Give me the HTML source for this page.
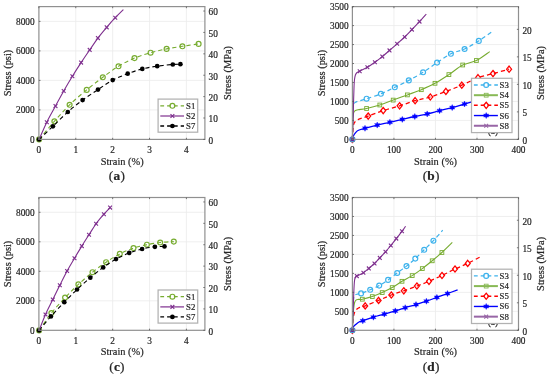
<!DOCTYPE html><html><head><meta charset="utf-8"><style>html,body{margin:0;padding:0;background:#fff;}svg{display:block;}text{font-family:"Liberation Serif",serif;stroke-width:0.2px;}</style></head><body>
<svg width="550" height="379" viewBox="0 0 550 379">
<rect width="550" height="379" fill="#fff"/>
<line x1="75.78" y1="6.6" x2="75.78" y2="139.4" stroke="#ebebeb" stroke-width="0.8"/>
<line x1="112.66" y1="6.6" x2="112.66" y2="139.4" stroke="#ebebeb" stroke-width="0.8"/>
<line x1="149.54" y1="6.6" x2="149.54" y2="139.4" stroke="#ebebeb" stroke-width="0.8"/>
<line x1="186.42" y1="6.6" x2="186.42" y2="139.4" stroke="#ebebeb" stroke-width="0.8"/>
<line x1="38.9" y1="109.9" x2="204.9" y2="109.9" stroke="#ebebeb" stroke-width="0.8"/>
<line x1="38.9" y1="80.4" x2="204.9" y2="80.4" stroke="#ebebeb" stroke-width="0.8"/>
<line x1="38.9" y1="50.9" x2="204.9" y2="50.9" stroke="#ebebeb" stroke-width="0.8"/>
<line x1="38.9" y1="21.4" x2="204.9" y2="21.4" stroke="#ebebeb" stroke-width="0.8"/>
<path d="M39.1 139.4 C41.65 136.38 49.32 127.07 54.4 121.3 C59.48 115.53 64.22 110.03 69.6 104.8 C74.98 99.57 81.17 94.48 86.7 89.9 C92.23 85.32 97.5 81.23 102.8 77.3 C108.1 73.37 113.22 69.5 118.5 66.3 C123.78 63.1 129.15 60.37 134.5 58.1 C139.85 55.83 145.25 54.23 150.6 52.7 C155.95 51.17 161.3 49.97 166.6 48.9 C171.9 47.83 177.07 47.13 182.4 46.3 C187.73 45.47 195.9 44.3 198.6 43.9" fill="none" stroke="#77AC30" stroke-width="1.1" stroke-dasharray="4.2 3.0" stroke-linejoin="round"/>
<circle cx="39.1" cy="139.4" r="2.45" fill="none" stroke="#77AC30" stroke-width="1.2"/>
<circle cx="54.4" cy="121.3" r="2.45" fill="none" stroke="#77AC30" stroke-width="1.2"/>
<circle cx="69.6" cy="104.8" r="2.45" fill="none" stroke="#77AC30" stroke-width="1.2"/>
<circle cx="86.7" cy="89.9" r="2.45" fill="none" stroke="#77AC30" stroke-width="1.2"/>
<circle cx="102.8" cy="77.3" r="2.45" fill="none" stroke="#77AC30" stroke-width="1.2"/>
<circle cx="118.5" cy="66.3" r="2.45" fill="none" stroke="#77AC30" stroke-width="1.2"/>
<circle cx="134.5" cy="58.1" r="2.45" fill="none" stroke="#77AC30" stroke-width="1.2"/>
<circle cx="150.6" cy="52.7" r="2.45" fill="none" stroke="#77AC30" stroke-width="1.2"/>
<circle cx="166.6" cy="48.9" r="2.45" fill="none" stroke="#77AC30" stroke-width="1.2"/>
<circle cx="182.4" cy="46.3" r="2.45" fill="none" stroke="#77AC30" stroke-width="1.2"/>
<circle cx="198.6" cy="43.9" r="2.45" fill="none" stroke="#77AC30" stroke-width="1.2"/>
<path d="M39.1 139.4 C41.4 137.22 48.12 130.87 52.9 126.3 C57.68 121.73 62.85 116.37 67.8 112 C72.75 107.63 77.57 103.83 82.6 100.1 C87.63 96.37 92.98 92.93 98 89.6 C103.02 86.27 107.75 82.75 112.7 80.1 C117.65 77.45 122.77 75.57 127.7 73.7 C132.63 71.83 137.38 70.15 142.3 68.9 C147.22 67.65 152.12 66.93 157.2 66.2 C162.28 65.47 168.93 64.83 172.8 64.5 C176.67 64.17 179.13 64.25 180.4 64.2" fill="none" stroke="#000000" stroke-width="1.1" stroke-dasharray="4.2 3.0" stroke-linejoin="round"/>
<circle cx="39.1" cy="139.4" r="2.35" fill="#000000"/>
<circle cx="52.9" cy="126.3" r="2.35" fill="#000000"/>
<circle cx="67.8" cy="112" r="2.35" fill="#000000"/>
<circle cx="82.6" cy="100.1" r="2.35" fill="#000000"/>
<circle cx="98" cy="89.6" r="2.35" fill="#000000"/>
<circle cx="112.7" cy="80.1" r="2.35" fill="#000000"/>
<circle cx="127.7" cy="73.7" r="2.35" fill="#000000"/>
<circle cx="142.3" cy="68.9" r="2.35" fill="#000000"/>
<circle cx="157.2" cy="66.2" r="2.35" fill="#000000"/>
<circle cx="172.8" cy="64.5" r="2.35" fill="#000000"/>
<circle cx="180.4" cy="64.2" r="2.35" fill="#000000"/>
<path d="M39.1 139.4 C40.38 136.53 44.07 127.75 46.8 122.2 C49.53 116.65 52.68 111.3 55.5 106.1 C58.32 100.9 60.88 95.98 63.7 91 C66.52 86.02 69.5 80.93 72.4 76.2 C75.3 71.47 78.22 66.98 81.1 62.6 C83.98 58.22 86.9 53.98 89.7 49.9 C92.5 45.82 95.07 41.86 97.9 38.1 C100.73 34.34 103.81 30.74 106.7 27.35 C109.59 23.96 112.47 20.7 115.25 17.74 C118.03 14.78 122.04 10.96 123.4 9.6" fill="none" stroke="#7E2F8E" stroke-width="1.1" stroke-linejoin="round"/>
<path d="M44.9 120.3 L48.7 124.1 M44.9 124.1 L48.7 120.3" stroke="#7E2F8E" stroke-width="1.1" fill="none"/>
<path d="M53.6 104.2 L57.4 108 M53.6 108 L57.4 104.2" stroke="#7E2F8E" stroke-width="1.1" fill="none"/>
<path d="M61.8 89.1 L65.6 92.9 M61.8 92.9 L65.6 89.1" stroke="#7E2F8E" stroke-width="1.1" fill="none"/>
<path d="M70.5 74.3 L74.3 78.1 M70.5 78.1 L74.3 74.3" stroke="#7E2F8E" stroke-width="1.1" fill="none"/>
<path d="M79.2 60.7 L83 64.5 M79.2 64.5 L83 60.7" stroke="#7E2F8E" stroke-width="1.1" fill="none"/>
<path d="M87.8 48 L91.6 51.8 M87.8 51.8 L91.6 48" stroke="#7E2F8E" stroke-width="1.1" fill="none"/>
<path d="M96 36.2 L99.8 40 M96 40 L99.8 36.2" stroke="#7E2F8E" stroke-width="1.1" fill="none"/>
<path d="M104.8 25.45 L108.6 29.25 M104.8 29.25 L108.6 25.45" stroke="#7E2F8E" stroke-width="1.1" fill="none"/>
<path d="M113.35 15.84 L117.15 19.64 M113.35 19.64 L117.15 15.84" stroke="#7E2F8E" stroke-width="1.1" fill="none"/>
<rect x="38.9" y="6.6" width="166" height="132.8" fill="none" stroke="#909090" stroke-width="1.2"/>
<line x1="38.9" y1="139.4" x2="38.9" y2="137.8" stroke="#555555" stroke-width="0.8"/>
<line x1="38.9" y1="6.6" x2="38.9" y2="8.2" stroke="#555555" stroke-width="0.8"/>
<line x1="75.78" y1="139.4" x2="75.78" y2="137.8" stroke="#555555" stroke-width="0.8"/>
<line x1="75.78" y1="6.6" x2="75.78" y2="8.2" stroke="#555555" stroke-width="0.8"/>
<line x1="112.66" y1="139.4" x2="112.66" y2="137.8" stroke="#555555" stroke-width="0.8"/>
<line x1="112.66" y1="6.6" x2="112.66" y2="8.2" stroke="#555555" stroke-width="0.8"/>
<line x1="149.54" y1="139.4" x2="149.54" y2="137.8" stroke="#555555" stroke-width="0.8"/>
<line x1="149.54" y1="6.6" x2="149.54" y2="8.2" stroke="#555555" stroke-width="0.8"/>
<line x1="186.42" y1="139.4" x2="186.42" y2="137.8" stroke="#555555" stroke-width="0.8"/>
<line x1="186.42" y1="6.6" x2="186.42" y2="8.2" stroke="#555555" stroke-width="0.8"/>
<line x1="38.9" y1="139.4" x2="40.5" y2="139.4" stroke="#555555" stroke-width="0.8"/>
<line x1="38.9" y1="109.9" x2="40.5" y2="109.9" stroke="#555555" stroke-width="0.8"/>
<line x1="38.9" y1="80.4" x2="40.5" y2="80.4" stroke="#555555" stroke-width="0.8"/>
<line x1="38.9" y1="50.9" x2="40.5" y2="50.9" stroke="#555555" stroke-width="0.8"/>
<line x1="38.9" y1="21.4" x2="40.5" y2="21.4" stroke="#555555" stroke-width="0.8"/>
<line x1="204.9" y1="139.4" x2="203.3" y2="139.4" stroke="#555555" stroke-width="0.8"/>
<line x1="204.9" y1="118.01" x2="203.3" y2="118.01" stroke="#555555" stroke-width="0.8"/>
<line x1="204.9" y1="96.61" x2="203.3" y2="96.61" stroke="#555555" stroke-width="0.8"/>
<line x1="204.9" y1="75.22" x2="203.3" y2="75.22" stroke="#555555" stroke-width="0.8"/>
<line x1="204.9" y1="53.83" x2="203.3" y2="53.83" stroke="#555555" stroke-width="0.8"/>
<line x1="204.9" y1="32.43" x2="203.3" y2="32.43" stroke="#555555" stroke-width="0.8"/>
<line x1="204.9" y1="11.04" x2="203.3" y2="11.04" stroke="#555555" stroke-width="0.8"/>
<text x="38.9" y="152.7" font-size="9.3" text-anchor="middle" fill="#262626" stroke="#262626">0</text>
<text x="75.78" y="152.7" font-size="9.3" text-anchor="middle" fill="#262626" stroke="#262626">1</text>
<text x="112.66" y="152.7" font-size="9.3" text-anchor="middle" fill="#262626" stroke="#262626">2</text>
<text x="149.54" y="152.7" font-size="9.3" text-anchor="middle" fill="#262626" stroke="#262626">3</text>
<text x="186.42" y="152.7" font-size="9.3" text-anchor="middle" fill="#262626" stroke="#262626">4</text>
<text x="34.6" y="142.7" font-size="9.3" text-anchor="end" fill="#262626" stroke="#262626">0</text>
<text x="34.6" y="113.2" font-size="9.3" text-anchor="end" fill="#262626" stroke="#262626">2000</text>
<text x="34.6" y="83.7" font-size="9.3" text-anchor="end" fill="#262626" stroke="#262626">4000</text>
<text x="34.6" y="54.2" font-size="9.3" text-anchor="end" fill="#262626" stroke="#262626">6000</text>
<text x="34.6" y="24.7" font-size="9.3" text-anchor="end" fill="#262626" stroke="#262626">8000</text>
<text x="208.6" y="143.7" font-size="9.3" text-anchor="start" fill="#262626" stroke="#262626">0</text>
<text x="208.6" y="122.31" font-size="9.3" text-anchor="start" fill="#262626" stroke="#262626">10</text>
<text x="208.6" y="100.91" font-size="9.3" text-anchor="start" fill="#262626" stroke="#262626">20</text>
<text x="208.6" y="79.52" font-size="9.3" text-anchor="start" fill="#262626" stroke="#262626">30</text>
<text x="208.6" y="58.13" font-size="9.3" text-anchor="start" fill="#262626" stroke="#262626">40</text>
<text x="208.6" y="36.73" font-size="9.3" text-anchor="start" fill="#262626" stroke="#262626">50</text>
<text x="208.6" y="15.34" font-size="9.3" text-anchor="start" fill="#262626" stroke="#262626">60</text>
<text x="0" y="0" transform="translate(11.4 73) rotate(-90)" font-size="10.4" text-anchor="middle" fill="#262626" stroke="#262626">Stress (psi)</text>
<text x="0" y="0" transform="translate(230.8 73) rotate(-90)" font-size="10.4" text-anchor="middle" fill="#262626" stroke="#262626">Stress (MPa)</text>
<text x="122.2" y="164.5" font-size="10.4" text-anchor="middle" fill="#262626" stroke="#262626">Strain (%)</text>
<line x1="75.78" y1="197.5" x2="75.78" y2="330.3" stroke="#ebebeb" stroke-width="0.8"/>
<line x1="112.66" y1="197.5" x2="112.66" y2="330.3" stroke="#ebebeb" stroke-width="0.8"/>
<line x1="149.54" y1="197.5" x2="149.54" y2="330.3" stroke="#ebebeb" stroke-width="0.8"/>
<line x1="186.42" y1="197.5" x2="186.42" y2="330.3" stroke="#ebebeb" stroke-width="0.8"/>
<line x1="38.9" y1="300.8" x2="204.9" y2="300.8" stroke="#ebebeb" stroke-width="0.8"/>
<line x1="38.9" y1="271.3" x2="204.9" y2="271.3" stroke="#ebebeb" stroke-width="0.8"/>
<line x1="38.9" y1="241.8" x2="204.9" y2="241.8" stroke="#ebebeb" stroke-width="0.8"/>
<line x1="38.9" y1="212.3" x2="204.9" y2="212.3" stroke="#ebebeb" stroke-width="0.8"/>
<path d="M39.1 330.4 C41.15 327.52 47.07 318.57 51.4 313.1 C55.73 307.63 60.6 302.38 65.1 297.6 C69.6 292.82 73.83 288.63 78.4 284.4 C82.97 280.17 87.88 275.9 92.5 272.2 C97.12 268.5 101.55 265.25 106.1 262.2 C110.65 259.15 115.23 256.25 119.8 253.9 C124.37 251.55 128.98 249.63 133.5 248.1 C138.02 246.57 142.45 245.63 146.9 244.7 C151.35 243.77 155.72 243.02 160.2 242.5 C164.68 241.98 171.53 241.75 173.8 241.6" fill="none" stroke="#77AC30" stroke-width="1.1" stroke-dasharray="4.2 3.0" stroke-linejoin="round"/>
<circle cx="39.1" cy="330.4" r="2.45" fill="none" stroke="#77AC30" stroke-width="1.2"/>
<circle cx="51.4" cy="313.1" r="2.45" fill="none" stroke="#77AC30" stroke-width="1.2"/>
<circle cx="65.1" cy="297.6" r="2.45" fill="none" stroke="#77AC30" stroke-width="1.2"/>
<circle cx="78.4" cy="284.4" r="2.45" fill="none" stroke="#77AC30" stroke-width="1.2"/>
<circle cx="92.5" cy="272.2" r="2.45" fill="none" stroke="#77AC30" stroke-width="1.2"/>
<circle cx="106.1" cy="262.2" r="2.45" fill="none" stroke="#77AC30" stroke-width="1.2"/>
<circle cx="119.8" cy="253.9" r="2.45" fill="none" stroke="#77AC30" stroke-width="1.2"/>
<circle cx="133.5" cy="248.1" r="2.45" fill="none" stroke="#77AC30" stroke-width="1.2"/>
<circle cx="146.9" cy="244.7" r="2.45" fill="none" stroke="#77AC30" stroke-width="1.2"/>
<circle cx="160.2" cy="242.5" r="2.45" fill="none" stroke="#77AC30" stroke-width="1.2"/>
<circle cx="173.8" cy="241.6" r="2.45" fill="none" stroke="#77AC30" stroke-width="1.2"/>
<path d="M39.1 330.4 C41.07 328.07 46.7 321.1 50.9 316.4 C55.1 311.7 59.95 306.68 64.3 302.2 C68.65 297.72 72.67 293.58 77 289.5 C81.33 285.42 85.93 281.38 90.3 277.7 C94.67 274.02 98.92 270.5 103.2 267.4 C107.48 264.3 111.67 261.52 116 259.1 C120.33 256.68 124.85 254.58 129.2 252.9 C133.55 251.22 137.82 250.02 142.1 249 C146.38 247.98 151.17 247.23 154.9 246.8 C158.63 246.37 162.9 246.47 164.5 246.4" fill="none" stroke="#000000" stroke-width="1.1" stroke-dasharray="4.2 3.0" stroke-linejoin="round"/>
<circle cx="39.1" cy="330.4" r="2.35" fill="#000000"/>
<circle cx="50.9" cy="316.4" r="2.35" fill="#000000"/>
<circle cx="64.3" cy="302.2" r="2.35" fill="#000000"/>
<circle cx="77" cy="289.5" r="2.35" fill="#000000"/>
<circle cx="90.3" cy="277.7" r="2.35" fill="#000000"/>
<circle cx="103.2" cy="267.4" r="2.35" fill="#000000"/>
<circle cx="116" cy="259.1" r="2.35" fill="#000000"/>
<circle cx="129.2" cy="252.9" r="2.35" fill="#000000"/>
<circle cx="142.1" cy="249" r="2.35" fill="#000000"/>
<circle cx="154.9" cy="246.8" r="2.35" fill="#000000"/>
<circle cx="164.5" cy="246.4" r="2.35" fill="#000000"/>
<path d="M39.1 330.4 C40.17 327.75 43.22 319.63 45.5 314.5 C47.78 309.37 50.42 304.47 52.8 299.6 C55.18 294.73 57.42 290.07 59.8 285.3 C62.18 280.53 64.65 275.52 67.1 271 C69.55 266.48 72.05 262.35 74.5 258.2 C76.95 254.05 79.38 250.02 81.8 246.1 C84.22 242.18 86.62 238.43 89 234.7 C91.38 230.97 93.62 227.12 96.1 223.7 C98.58 220.28 101.57 216.88 103.9 214.2 C106.23 211.52 109.07 208.7 110.1 207.6" fill="none" stroke="#7E2F8E" stroke-width="1.1" stroke-linejoin="round"/>
<path d="M43.6 312.6 L47.4 316.4 M43.6 316.4 L47.4 312.6" stroke="#7E2F8E" stroke-width="1.1" fill="none"/>
<path d="M50.9 297.7 L54.7 301.5 M50.9 301.5 L54.7 297.7" stroke="#7E2F8E" stroke-width="1.1" fill="none"/>
<path d="M57.9 283.4 L61.7 287.2 M57.9 287.2 L61.7 283.4" stroke="#7E2F8E" stroke-width="1.1" fill="none"/>
<path d="M65.2 269.1 L69 272.9 M65.2 272.9 L69 269.1" stroke="#7E2F8E" stroke-width="1.1" fill="none"/>
<path d="M72.6 256.3 L76.4 260.1 M72.6 260.1 L76.4 256.3" stroke="#7E2F8E" stroke-width="1.1" fill="none"/>
<path d="M79.9 244.2 L83.7 248 M79.9 248 L83.7 244.2" stroke="#7E2F8E" stroke-width="1.1" fill="none"/>
<path d="M87.1 232.8 L90.9 236.6 M87.1 236.6 L90.9 232.8" stroke="#7E2F8E" stroke-width="1.1" fill="none"/>
<path d="M94.2 221.8 L98 225.6 M94.2 225.6 L98 221.8" stroke="#7E2F8E" stroke-width="1.1" fill="none"/>
<path d="M102 212.3 L105.8 216.1 M102 216.1 L105.8 212.3" stroke="#7E2F8E" stroke-width="1.1" fill="none"/>
<path d="M108.2 205.7 L112 209.5 M108.2 209.5 L112 205.7" stroke="#7E2F8E" stroke-width="1.1" fill="none"/>
<rect x="38.9" y="197.5" width="166" height="132.8" fill="none" stroke="#909090" stroke-width="1.2"/>
<line x1="38.9" y1="330.3" x2="38.9" y2="328.7" stroke="#555555" stroke-width="0.8"/>
<line x1="38.9" y1="197.5" x2="38.9" y2="199.1" stroke="#555555" stroke-width="0.8"/>
<line x1="75.78" y1="330.3" x2="75.78" y2="328.7" stroke="#555555" stroke-width="0.8"/>
<line x1="75.78" y1="197.5" x2="75.78" y2="199.1" stroke="#555555" stroke-width="0.8"/>
<line x1="112.66" y1="330.3" x2="112.66" y2="328.7" stroke="#555555" stroke-width="0.8"/>
<line x1="112.66" y1="197.5" x2="112.66" y2="199.1" stroke="#555555" stroke-width="0.8"/>
<line x1="149.54" y1="330.3" x2="149.54" y2="328.7" stroke="#555555" stroke-width="0.8"/>
<line x1="149.54" y1="197.5" x2="149.54" y2="199.1" stroke="#555555" stroke-width="0.8"/>
<line x1="186.42" y1="330.3" x2="186.42" y2="328.7" stroke="#555555" stroke-width="0.8"/>
<line x1="186.42" y1="197.5" x2="186.42" y2="199.1" stroke="#555555" stroke-width="0.8"/>
<line x1="38.9" y1="330.3" x2="40.5" y2="330.3" stroke="#555555" stroke-width="0.8"/>
<line x1="38.9" y1="300.8" x2="40.5" y2="300.8" stroke="#555555" stroke-width="0.8"/>
<line x1="38.9" y1="271.3" x2="40.5" y2="271.3" stroke="#555555" stroke-width="0.8"/>
<line x1="38.9" y1="241.8" x2="40.5" y2="241.8" stroke="#555555" stroke-width="0.8"/>
<line x1="38.9" y1="212.3" x2="40.5" y2="212.3" stroke="#555555" stroke-width="0.8"/>
<line x1="204.9" y1="330.3" x2="203.3" y2="330.3" stroke="#555555" stroke-width="0.8"/>
<line x1="204.9" y1="308.91" x2="203.3" y2="308.91" stroke="#555555" stroke-width="0.8"/>
<line x1="204.9" y1="287.51" x2="203.3" y2="287.51" stroke="#555555" stroke-width="0.8"/>
<line x1="204.9" y1="266.12" x2="203.3" y2="266.12" stroke="#555555" stroke-width="0.8"/>
<line x1="204.9" y1="244.73" x2="203.3" y2="244.73" stroke="#555555" stroke-width="0.8"/>
<line x1="204.9" y1="223.33" x2="203.3" y2="223.33" stroke="#555555" stroke-width="0.8"/>
<line x1="204.9" y1="201.94" x2="203.3" y2="201.94" stroke="#555555" stroke-width="0.8"/>
<text x="38.9" y="343.6" font-size="9.3" text-anchor="middle" fill="#262626" stroke="#262626">0</text>
<text x="75.78" y="343.6" font-size="9.3" text-anchor="middle" fill="#262626" stroke="#262626">1</text>
<text x="112.66" y="343.6" font-size="9.3" text-anchor="middle" fill="#262626" stroke="#262626">2</text>
<text x="149.54" y="343.6" font-size="9.3" text-anchor="middle" fill="#262626" stroke="#262626">3</text>
<text x="186.42" y="343.6" font-size="9.3" text-anchor="middle" fill="#262626" stroke="#262626">4</text>
<text x="34.6" y="333.6" font-size="9.3" text-anchor="end" fill="#262626" stroke="#262626">0</text>
<text x="34.6" y="304.1" font-size="9.3" text-anchor="end" fill="#262626" stroke="#262626">2000</text>
<text x="34.6" y="274.6" font-size="9.3" text-anchor="end" fill="#262626" stroke="#262626">4000</text>
<text x="34.6" y="245.1" font-size="9.3" text-anchor="end" fill="#262626" stroke="#262626">6000</text>
<text x="34.6" y="215.6" font-size="9.3" text-anchor="end" fill="#262626" stroke="#262626">8000</text>
<text x="208.6" y="334.6" font-size="9.3" text-anchor="start" fill="#262626" stroke="#262626">0</text>
<text x="208.6" y="313.21" font-size="9.3" text-anchor="start" fill="#262626" stroke="#262626">10</text>
<text x="208.6" y="291.81" font-size="9.3" text-anchor="start" fill="#262626" stroke="#262626">20</text>
<text x="208.6" y="270.42" font-size="9.3" text-anchor="start" fill="#262626" stroke="#262626">30</text>
<text x="208.6" y="249.03" font-size="9.3" text-anchor="start" fill="#262626" stroke="#262626">40</text>
<text x="208.6" y="227.63" font-size="9.3" text-anchor="start" fill="#262626" stroke="#262626">50</text>
<text x="208.6" y="206.24" font-size="9.3" text-anchor="start" fill="#262626" stroke="#262626">60</text>
<text x="0" y="0" transform="translate(11.4 263.9) rotate(-90)" font-size="10.4" text-anchor="middle" fill="#262626" stroke="#262626">Stress (psi)</text>
<text x="0" y="0" transform="translate(230.8 263.9) rotate(-90)" font-size="10.4" text-anchor="middle" fill="#262626" stroke="#262626">Stress (MPa)</text>
<text x="122.2" y="355.4" font-size="10.4" text-anchor="middle" fill="#262626" stroke="#262626">Strain (%)</text>
<line x1="393.93" y1="6.6" x2="393.93" y2="139.4" stroke="#ebebeb" stroke-width="0.8"/>
<line x1="435.46" y1="6.6" x2="435.46" y2="139.4" stroke="#ebebeb" stroke-width="0.8"/>
<line x1="476.99" y1="6.6" x2="476.99" y2="139.4" stroke="#ebebeb" stroke-width="0.8"/>
<line x1="352.4" y1="120.43" x2="518.5" y2="120.43" stroke="#ebebeb" stroke-width="0.8"/>
<line x1="352.4" y1="101.46" x2="518.5" y2="101.46" stroke="#ebebeb" stroke-width="0.8"/>
<line x1="352.4" y1="82.49" x2="518.5" y2="82.49" stroke="#ebebeb" stroke-width="0.8"/>
<line x1="352.4" y1="63.52" x2="518.5" y2="63.52" stroke="#ebebeb" stroke-width="0.8"/>
<line x1="352.4" y1="44.55" x2="518.5" y2="44.55" stroke="#ebebeb" stroke-width="0.8"/>
<line x1="352.4" y1="25.58" x2="518.5" y2="25.58" stroke="#ebebeb" stroke-width="0.8"/>
<path d="M352.4 139.4 C352.55 138.87 352.87 137.2 353.3 136.2 C353.73 135.2 354.22 134.35 355 133.4 C355.78 132.45 356.33 131.35 358 130.5 C359.67 129.65 361.8 129.2 365 128.3 C368.2 127.4 373.05 126.1 377.2 125.1 C381.35 124.1 385.72 123.25 389.9 122.3 C394.08 121.35 398.15 120.37 402.3 119.4 C406.45 118.43 410.65 117.42 414.8 116.5 C418.95 115.58 423.07 114.87 427.2 113.9 C431.33 112.93 435.43 111.75 439.6 110.7 C443.77 109.65 448.05 108.72 452.2 107.6 C456.35 106.48 460.37 105.17 464.5 104 C468.63 102.83 474.92 101.17 477 100.6" fill="none" stroke="#0000FF" stroke-width="1.3" stroke-linejoin="round"/>
<path d="M352.4 136.4 L351.65 138.1 L349.8 137.9 L350.9 139.4 L349.8 140.9 L351.65 140.7 L352.4 142.4 L353.15 140.7 L355 140.9 L353.9 139.4 L355 137.9 L353.15 138.1 Z" fill="#0000FF" stroke="#0000FF" stroke-width="0.4"/>
<path d="M365 125.3 L364.25 127 L362.4 126.8 L363.5 128.3 L362.4 129.8 L364.25 129.6 L365 131.3 L365.75 129.6 L367.6 129.8 L366.5 128.3 L367.6 126.8 L365.75 127 Z" fill="#0000FF" stroke="#0000FF" stroke-width="0.4"/>
<path d="M377.2 122.1 L376.45 123.8 L374.6 123.6 L375.7 125.1 L374.6 126.6 L376.45 126.4 L377.2 128.1 L377.95 126.4 L379.8 126.6 L378.7 125.1 L379.8 123.6 L377.95 123.8 Z" fill="#0000FF" stroke="#0000FF" stroke-width="0.4"/>
<path d="M389.9 119.3 L389.15 121 L387.3 120.8 L388.4 122.3 L387.3 123.8 L389.15 123.6 L389.9 125.3 L390.65 123.6 L392.5 123.8 L391.4 122.3 L392.5 120.8 L390.65 121 Z" fill="#0000FF" stroke="#0000FF" stroke-width="0.4"/>
<path d="M402.3 116.4 L401.55 118.1 L399.7 117.9 L400.8 119.4 L399.7 120.9 L401.55 120.7 L402.3 122.4 L403.05 120.7 L404.9 120.9 L403.8 119.4 L404.9 117.9 L403.05 118.1 Z" fill="#0000FF" stroke="#0000FF" stroke-width="0.4"/>
<path d="M414.8 113.5 L414.05 115.2 L412.2 115 L413.3 116.5 L412.2 118 L414.05 117.8 L414.8 119.5 L415.55 117.8 L417.4 118 L416.3 116.5 L417.4 115 L415.55 115.2 Z" fill="#0000FF" stroke="#0000FF" stroke-width="0.4"/>
<path d="M427.2 110.9 L426.45 112.6 L424.6 112.4 L425.7 113.9 L424.6 115.4 L426.45 115.2 L427.2 116.9 L427.95 115.2 L429.8 115.4 L428.7 113.9 L429.8 112.4 L427.95 112.6 Z" fill="#0000FF" stroke="#0000FF" stroke-width="0.4"/>
<path d="M439.6 107.7 L438.85 109.4 L437 109.2 L438.1 110.7 L437 112.2 L438.85 112 L439.6 113.7 L440.35 112 L442.2 112.2 L441.1 110.7 L442.2 109.2 L440.35 109.4 Z" fill="#0000FF" stroke="#0000FF" stroke-width="0.4"/>
<path d="M452.2 104.6 L451.45 106.3 L449.6 106.1 L450.7 107.6 L449.6 109.1 L451.45 108.9 L452.2 110.6 L452.95 108.9 L454.8 109.1 L453.7 107.6 L454.8 106.1 L452.95 106.3 Z" fill="#0000FF" stroke="#0000FF" stroke-width="0.4"/>
<path d="M464.5 101 L463.75 102.7 L461.9 102.5 L463 104 L461.9 105.5 L463.75 105.3 L464.5 107 L465.25 105.3 L467.1 105.5 L466 104 L467.1 102.5 L465.25 102.7 Z" fill="#0000FF" stroke="#0000FF" stroke-width="0.4"/>
<path d="M477 97.6 L476.25 99.3 L474.4 99.1 L475.5 100.6 L474.4 102.1 L476.25 101.9 L477 103.6 L477.75 101.9 L479.6 102.1 L478.5 100.6 L479.6 99.1 L477.75 99.3 Z" fill="#0000FF" stroke="#0000FF" stroke-width="0.4"/>
<path d="M352.4 139.4 C352.53 137.33 352.83 129.83 353.2 127 C353.57 124.17 353.8 123.63 354.6 122.4 C355.4 121.17 355.73 120.65 358 119.6 C360.27 118.55 364 117.6 368.2 116.1 C372.4 114.6 377.97 112.32 383.2 110.6 C388.43 108.88 394.28 107.45 399.6 105.8 C404.92 104.15 409.98 102.17 415.1 100.7 C420.22 99.23 425.17 98.55 430.3 97 C435.43 95.45 440.65 93.37 445.9 91.4 C451.15 89.43 456.45 87.48 461.8 85.2 C467.15 82.92 472.8 79.63 478 77.7 C483.2 75.77 487.82 75.02 493 73.6 C498.18 72.18 506.42 69.93 509.1 69.2" fill="none" stroke="#FF0000" stroke-width="1.3" stroke-dasharray="4.2 3.0" stroke-linejoin="round"/>
<path d="M352.4 136.3 L354.9 139.4 L352.4 142.5 L349.9 139.4 Z" fill="none" stroke="#FF0000" stroke-width="1.25"/>
<path d="M368.2 113 L370.7 116.1 L368.2 119.2 L365.7 116.1 Z" fill="none" stroke="#FF0000" stroke-width="1.25"/>
<path d="M383.2 107.5 L385.7 110.6 L383.2 113.7 L380.7 110.6 Z" fill="none" stroke="#FF0000" stroke-width="1.25"/>
<path d="M399.6 102.7 L402.1 105.8 L399.6 108.9 L397.1 105.8 Z" fill="none" stroke="#FF0000" stroke-width="1.25"/>
<path d="M415.1 97.6 L417.6 100.7 L415.1 103.8 L412.6 100.7 Z" fill="none" stroke="#FF0000" stroke-width="1.25"/>
<path d="M430.3 93.9 L432.8 97 L430.3 100.1 L427.8 97 Z" fill="none" stroke="#FF0000" stroke-width="1.25"/>
<path d="M445.9 88.3 L448.4 91.4 L445.9 94.5 L443.4 91.4 Z" fill="none" stroke="#FF0000" stroke-width="1.25"/>
<path d="M461.8 82.1 L464.3 85.2 L461.8 88.3 L459.3 85.2 Z" fill="none" stroke="#FF0000" stroke-width="1.25"/>
<path d="M478 74.6 L480.5 77.7 L478 80.8 L475.5 77.7 Z" fill="none" stroke="#FF0000" stroke-width="1.25"/>
<path d="M493 70.5 L495.5 73.6 L493 76.7 L490.5 73.6 Z" fill="none" stroke="#FF0000" stroke-width="1.25"/>
<path d="M509.1 66.1 L511.6 69.2 L509.1 72.3 L506.6 69.2 Z" fill="none" stroke="#FF0000" stroke-width="1.25"/>
<path d="M352.4 139.4 C352.48 136.17 352.7 124.4 352.9 120 C353.1 115.6 353.25 114.53 353.6 113 C353.95 111.47 354.27 111.33 355 110.8 C355.73 110.27 356.07 110.18 358 109.8 C359.93 109.42 362.97 109.3 366.6 108.5 C370.23 107.7 375.37 106.4 379.8 105 C384.23 103.6 388.6 101.78 393.2 100.1 C397.8 98.42 402.72 96.63 407.4 94.9 C412.08 93.17 416.7 91.63 421.3 89.7 C425.9 87.77 430.4 85.82 435 83.3 C439.6 80.78 444.28 77.65 448.9 74.6 C453.52 71.55 458.12 67.35 462.7 65 C467.28 62.65 471.9 62.73 476.4 60.5 C480.9 58.27 487.48 53.08 489.7 51.6" fill="none" stroke="#77AC30" stroke-width="1.1" stroke-linejoin="round"/>
<rect x="350.5" y="137.5" width="3.8" height="3.8" fill="none" stroke="#77AC30" stroke-width="0.9"/>
<rect x="364.7" y="106.6" width="3.8" height="3.8" fill="none" stroke="#77AC30" stroke-width="0.9"/>
<rect x="377.9" y="103.1" width="3.8" height="3.8" fill="none" stroke="#77AC30" stroke-width="0.9"/>
<rect x="391.3" y="98.2" width="3.8" height="3.8" fill="none" stroke="#77AC30" stroke-width="0.9"/>
<rect x="405.5" y="93" width="3.8" height="3.8" fill="none" stroke="#77AC30" stroke-width="0.9"/>
<rect x="419.4" y="87.8" width="3.8" height="3.8" fill="none" stroke="#77AC30" stroke-width="0.9"/>
<rect x="433.1" y="81.4" width="3.8" height="3.8" fill="none" stroke="#77AC30" stroke-width="0.9"/>
<rect x="447" y="72.7" width="3.8" height="3.8" fill="none" stroke="#77AC30" stroke-width="0.9"/>
<rect x="460.8" y="63.1" width="3.8" height="3.8" fill="none" stroke="#77AC30" stroke-width="0.9"/>
<rect x="474.5" y="58.6" width="3.8" height="3.8" fill="none" stroke="#77AC30" stroke-width="0.9"/>
<path d="M352.4 139.4 C352.47 135.33 352.63 120.65 352.8 115 C352.97 109.35 353.03 107.57 353.4 105.5 C353.77 103.43 354.23 103.3 355 102.6 C355.77 101.9 356.07 101.95 358 101.3 C359.93 100.65 362.78 99.95 366.6 98.7 C370.42 97.45 376.2 95.7 380.9 93.8 C385.6 91.9 390.15 89.53 394.8 87.3 C399.45 85.07 404.08 82.9 408.8 80.4 C413.52 77.9 418.38 75.27 423.1 72.3 C427.82 69.33 432.47 65.68 437.1 62.6 C441.73 59.52 446.32 56.07 450.9 53.8 C455.48 51.53 459.95 51.15 464.6 49 C469.25 46.85 474.07 43.92 478.8 40.9 C483.53 37.88 490.63 32.57 493 30.9" fill="none" stroke="#3DB2EC" stroke-width="1.2" stroke-dasharray="4.2 3.0" stroke-linejoin="round"/>
<circle cx="352.4" cy="139.4" r="2.45" fill="none" stroke="#3DB2EC" stroke-width="1.2"/>
<circle cx="366.6" cy="98.7" r="2.45" fill="none" stroke="#3DB2EC" stroke-width="1.2"/>
<circle cx="380.9" cy="93.8" r="2.45" fill="none" stroke="#3DB2EC" stroke-width="1.2"/>
<circle cx="394.8" cy="87.3" r="2.45" fill="none" stroke="#3DB2EC" stroke-width="1.2"/>
<circle cx="408.8" cy="80.4" r="2.45" fill="none" stroke="#3DB2EC" stroke-width="1.2"/>
<circle cx="423.1" cy="72.3" r="2.45" fill="none" stroke="#3DB2EC" stroke-width="1.2"/>
<circle cx="437.1" cy="62.6" r="2.45" fill="none" stroke="#3DB2EC" stroke-width="1.2"/>
<circle cx="450.9" cy="53.8" r="2.45" fill="none" stroke="#3DB2EC" stroke-width="1.2"/>
<circle cx="464.6" cy="49" r="2.45" fill="none" stroke="#3DB2EC" stroke-width="1.2"/>
<circle cx="478.8" cy="40.9" r="2.45" fill="none" stroke="#3DB2EC" stroke-width="1.2"/>
<path d="M352.4 139.4 C352.52 136.17 352.9 126.57 353.1 120 C353.3 113.43 353.44 105.67 353.6 100 C353.76 94.33 353.9 89.42 354.05 86 C354.2 82.58 354.27 81.33 354.5 79.5 C354.73 77.67 354.98 76.17 355.4 75 C355.82 73.83 356.28 73.13 357 72.5 C357.72 71.87 357.97 72.07 359.7 71.2 C361.43 70.33 364.87 68.78 367.4 67.3 C369.93 65.82 372.42 64.08 374.9 62.3 C377.38 60.52 379.87 58.58 382.3 56.6 C384.73 54.62 387.03 52.53 389.5 50.4 C391.97 48.27 394.57 46.03 397.1 43.8 C399.63 41.57 402.23 39.37 404.7 37 C407.17 34.63 409.43 32.17 411.9 29.6 C414.37 27.03 417.1 24.2 419.5 21.6 C421.9 19 425.17 15.27 426.3 14" fill="none" stroke="#7E2F8E" stroke-width="1.1" stroke-linejoin="round"/>
<path d="M350.5 137.5 L354.3 141.3 M350.5 141.3 L354.3 137.5" stroke="#7E2F8E" stroke-width="1.1" fill="none"/>
<path d="M357.8 69.3 L361.6 73.1 M357.8 73.1 L361.6 69.3" stroke="#7E2F8E" stroke-width="1.1" fill="none"/>
<path d="M365.5 65.4 L369.3 69.2 M365.5 69.2 L369.3 65.4" stroke="#7E2F8E" stroke-width="1.1" fill="none"/>
<path d="M373 60.4 L376.8 64.2 M373 64.2 L376.8 60.4" stroke="#7E2F8E" stroke-width="1.1" fill="none"/>
<path d="M380.4 54.7 L384.2 58.5 M380.4 58.5 L384.2 54.7" stroke="#7E2F8E" stroke-width="1.1" fill="none"/>
<path d="M387.6 48.5 L391.4 52.3 M387.6 52.3 L391.4 48.5" stroke="#7E2F8E" stroke-width="1.1" fill="none"/>
<path d="M395.2 41.9 L399 45.7 M395.2 45.7 L399 41.9" stroke="#7E2F8E" stroke-width="1.1" fill="none"/>
<path d="M402.8 35.1 L406.6 38.9 M402.8 38.9 L406.6 35.1" stroke="#7E2F8E" stroke-width="1.1" fill="none"/>
<path d="M410 27.7 L413.8 31.5 M410 31.5 L413.8 27.7" stroke="#7E2F8E" stroke-width="1.1" fill="none"/>
<path d="M417.6 19.7 L421.4 23.5 M417.6 23.5 L421.4 19.7" stroke="#7E2F8E" stroke-width="1.1" fill="none"/>
<rect x="352.4" y="6.6" width="166.1" height="132.8" fill="none" stroke="#909090" stroke-width="1.2"/>
<line x1="352.4" y1="139.4" x2="352.4" y2="137.8" stroke="#555555" stroke-width="0.8"/>
<line x1="352.4" y1="6.6" x2="352.4" y2="8.2" stroke="#555555" stroke-width="0.8"/>
<line x1="393.93" y1="139.4" x2="393.93" y2="137.8" stroke="#555555" stroke-width="0.8"/>
<line x1="393.93" y1="6.6" x2="393.93" y2="8.2" stroke="#555555" stroke-width="0.8"/>
<line x1="435.46" y1="139.4" x2="435.46" y2="137.8" stroke="#555555" stroke-width="0.8"/>
<line x1="435.46" y1="6.6" x2="435.46" y2="8.2" stroke="#555555" stroke-width="0.8"/>
<line x1="476.99" y1="139.4" x2="476.99" y2="137.8" stroke="#555555" stroke-width="0.8"/>
<line x1="476.99" y1="6.6" x2="476.99" y2="8.2" stroke="#555555" stroke-width="0.8"/>
<line x1="518.52" y1="139.4" x2="518.52" y2="137.8" stroke="#555555" stroke-width="0.8"/>
<line x1="518.52" y1="6.6" x2="518.52" y2="8.2" stroke="#555555" stroke-width="0.8"/>
<line x1="352.4" y1="139.4" x2="354" y2="139.4" stroke="#555555" stroke-width="0.8"/>
<line x1="352.4" y1="120.43" x2="354" y2="120.43" stroke="#555555" stroke-width="0.8"/>
<line x1="352.4" y1="101.46" x2="354" y2="101.46" stroke="#555555" stroke-width="0.8"/>
<line x1="352.4" y1="82.49" x2="354" y2="82.49" stroke="#555555" stroke-width="0.8"/>
<line x1="352.4" y1="63.52" x2="354" y2="63.52" stroke="#555555" stroke-width="0.8"/>
<line x1="352.4" y1="44.55" x2="354" y2="44.55" stroke="#555555" stroke-width="0.8"/>
<line x1="352.4" y1="25.58" x2="354" y2="25.58" stroke="#555555" stroke-width="0.8"/>
<line x1="352.4" y1="6.61" x2="354" y2="6.61" stroke="#555555" stroke-width="0.8"/>
<line x1="518.5" y1="139.4" x2="516.9" y2="139.4" stroke="#555555" stroke-width="0.8"/>
<line x1="518.5" y1="111.89" x2="516.9" y2="111.89" stroke="#555555" stroke-width="0.8"/>
<line x1="518.5" y1="84.37" x2="516.9" y2="84.37" stroke="#555555" stroke-width="0.8"/>
<line x1="518.5" y1="56.86" x2="516.9" y2="56.86" stroke="#555555" stroke-width="0.8"/>
<line x1="518.5" y1="29.35" x2="516.9" y2="29.35" stroke="#555555" stroke-width="0.8"/>
<text x="352.4" y="152.7" font-size="9.3" text-anchor="middle" fill="#262626" stroke="#262626">0</text>
<text x="393.93" y="152.7" font-size="9.3" text-anchor="middle" fill="#262626" stroke="#262626">100</text>
<text x="435.46" y="152.7" font-size="9.3" text-anchor="middle" fill="#262626" stroke="#262626">200</text>
<text x="476.99" y="152.7" font-size="9.3" text-anchor="middle" fill="#262626" stroke="#262626">300</text>
<text x="518.52" y="152.7" font-size="9.3" text-anchor="middle" fill="#262626" stroke="#262626">400</text>
<text x="348.6" y="142.7" font-size="9.3" text-anchor="end" fill="#262626" stroke="#262626">0</text>
<text x="348.6" y="123.73" font-size="9.3" text-anchor="end" fill="#262626" stroke="#262626">500</text>
<text x="348.6" y="104.76" font-size="9.3" text-anchor="end" fill="#262626" stroke="#262626">1000</text>
<text x="348.6" y="85.79" font-size="9.3" text-anchor="end" fill="#262626" stroke="#262626">1500</text>
<text x="348.6" y="66.82" font-size="9.3" text-anchor="end" fill="#262626" stroke="#262626">2000</text>
<text x="348.6" y="47.85" font-size="9.3" text-anchor="end" fill="#262626" stroke="#262626">2500</text>
<text x="348.6" y="28.88" font-size="9.3" text-anchor="end" fill="#262626" stroke="#262626">3000</text>
<text x="348.6" y="9.91" font-size="9.3" text-anchor="end" fill="#262626" stroke="#262626">3500</text>
<text x="522.4" y="143.7" font-size="9.3" text-anchor="start" fill="#262626" stroke="#262626">0</text>
<text x="522.4" y="116.19" font-size="9.3" text-anchor="start" fill="#262626" stroke="#262626">5</text>
<text x="522.4" y="88.67" font-size="9.3" text-anchor="start" fill="#262626" stroke="#262626">10</text>
<text x="522.4" y="61.16" font-size="9.3" text-anchor="start" fill="#262626" stroke="#262626">15</text>
<text x="522.4" y="33.65" font-size="9.3" text-anchor="start" fill="#262626" stroke="#262626">20</text>
<text x="0" y="0" transform="translate(324.9 73) rotate(-90)" font-size="10.4" text-anchor="middle" fill="#262626" stroke="#262626">Stress (psi)</text>
<text x="0" y="0" transform="translate(544.4 73) rotate(-90)" font-size="10.4" text-anchor="middle" fill="#262626" stroke="#262626">Stress (MPa)</text>
<text x="435.5" y="164.5" font-size="10.4" text-anchor="middle" fill="#262626" stroke="#262626">Strain (%)</text>
<line x1="393.93" y1="197.5" x2="393.93" y2="330.3" stroke="#ebebeb" stroke-width="0.8"/>
<line x1="435.46" y1="197.5" x2="435.46" y2="330.3" stroke="#ebebeb" stroke-width="0.8"/>
<line x1="476.99" y1="197.5" x2="476.99" y2="330.3" stroke="#ebebeb" stroke-width="0.8"/>
<line x1="352.4" y1="311.33" x2="518.5" y2="311.33" stroke="#ebebeb" stroke-width="0.8"/>
<line x1="352.4" y1="292.36" x2="518.5" y2="292.36" stroke="#ebebeb" stroke-width="0.8"/>
<line x1="352.4" y1="273.39" x2="518.5" y2="273.39" stroke="#ebebeb" stroke-width="0.8"/>
<line x1="352.4" y1="254.42" x2="518.5" y2="254.42" stroke="#ebebeb" stroke-width="0.8"/>
<line x1="352.4" y1="235.45" x2="518.5" y2="235.45" stroke="#ebebeb" stroke-width="0.8"/>
<line x1="352.4" y1="216.48" x2="518.5" y2="216.48" stroke="#ebebeb" stroke-width="0.8"/>
<path d="M352.4 330.3 C352.6 329.67 353 327.52 353.6 326.5 C354.2 325.48 355.1 324.95 356 324.2 C356.9 323.45 357.87 322.57 359 322 C360.13 321.43 360.4 321.6 362.8 320.8 C365.2 320 369.82 318.32 373.4 317.2 C376.98 316.08 380.65 315.15 384.3 314.1 C387.95 313.05 391.82 311.97 395.3 310.9 C398.78 309.83 401.75 308.75 405.2 307.7 C408.65 306.65 412.47 305.68 416 304.6 C419.53 303.52 422.92 302.4 426.4 301.2 C429.88 300 433.38 298.67 436.9 297.4 C440.42 296.13 444.05 294.87 447.5 293.6 C450.95 292.33 455.92 290.43 457.6 289.8" fill="none" stroke="#0000FF" stroke-width="1.3" stroke-linejoin="round"/>
<path d="M352.4 327.3 L351.65 329 L349.8 328.8 L350.9 330.3 L349.8 331.8 L351.65 331.6 L352.4 333.3 L353.15 331.6 L355 331.8 L353.9 330.3 L355 328.8 L353.15 329 Z" fill="#0000FF" stroke="#0000FF" stroke-width="0.4"/>
<path d="M362.8 317.8 L362.05 319.5 L360.2 319.3 L361.3 320.8 L360.2 322.3 L362.05 322.1 L362.8 323.8 L363.55 322.1 L365.4 322.3 L364.3 320.8 L365.4 319.3 L363.55 319.5 Z" fill="#0000FF" stroke="#0000FF" stroke-width="0.4"/>
<path d="M373.4 314.2 L372.65 315.9 L370.8 315.7 L371.9 317.2 L370.8 318.7 L372.65 318.5 L373.4 320.2 L374.15 318.5 L376 318.7 L374.9 317.2 L376 315.7 L374.15 315.9 Z" fill="#0000FF" stroke="#0000FF" stroke-width="0.4"/>
<path d="M384.3 311.1 L383.55 312.8 L381.7 312.6 L382.8 314.1 L381.7 315.6 L383.55 315.4 L384.3 317.1 L385.05 315.4 L386.9 315.6 L385.8 314.1 L386.9 312.6 L385.05 312.8 Z" fill="#0000FF" stroke="#0000FF" stroke-width="0.4"/>
<path d="M395.3 307.9 L394.55 309.6 L392.7 309.4 L393.8 310.9 L392.7 312.4 L394.55 312.2 L395.3 313.9 L396.05 312.2 L397.9 312.4 L396.8 310.9 L397.9 309.4 L396.05 309.6 Z" fill="#0000FF" stroke="#0000FF" stroke-width="0.4"/>
<path d="M405.2 304.7 L404.45 306.4 L402.6 306.2 L403.7 307.7 L402.6 309.2 L404.45 309 L405.2 310.7 L405.95 309 L407.8 309.2 L406.7 307.7 L407.8 306.2 L405.95 306.4 Z" fill="#0000FF" stroke="#0000FF" stroke-width="0.4"/>
<path d="M416 301.6 L415.25 303.3 L413.4 303.1 L414.5 304.6 L413.4 306.1 L415.25 305.9 L416 307.6 L416.75 305.9 L418.6 306.1 L417.5 304.6 L418.6 303.1 L416.75 303.3 Z" fill="#0000FF" stroke="#0000FF" stroke-width="0.4"/>
<path d="M426.4 298.2 L425.65 299.9 L423.8 299.7 L424.9 301.2 L423.8 302.7 L425.65 302.5 L426.4 304.2 L427.15 302.5 L429 302.7 L427.9 301.2 L429 299.7 L427.15 299.9 Z" fill="#0000FF" stroke="#0000FF" stroke-width="0.4"/>
<path d="M436.9 294.4 L436.15 296.1 L434.3 295.9 L435.4 297.4 L434.3 298.9 L436.15 298.7 L436.9 300.4 L437.65 298.7 L439.5 298.9 L438.4 297.4 L439.5 295.9 L437.65 296.1 Z" fill="#0000FF" stroke="#0000FF" stroke-width="0.4"/>
<path d="M447.5 290.6 L446.75 292.3 L444.9 292.1 L446 293.6 L444.9 295.1 L446.75 294.9 L447.5 296.6 L448.25 294.9 L450.1 295.1 L449 293.6 L450.1 292.1 L448.25 292.3 Z" fill="#0000FF" stroke="#0000FF" stroke-width="0.4"/>
<path d="M352.4 330.3 C352.53 328.25 352.77 321.13 353.2 318 C353.63 314.87 354.12 313.17 355 311.5 C355.88 309.83 356.8 308.93 358.5 308 C360.2 307.07 361.85 307.17 365.2 305.9 C368.55 304.63 374.25 302.22 378.6 300.4 C382.95 298.58 387.1 296.6 391.3 295 C395.5 293.4 399.53 292.3 403.8 290.8 C408.07 289.3 412.7 287.58 416.9 286 C421.1 284.42 424.82 283.05 429 281.3 C433.18 279.55 437.67 277.55 442 275.5 C446.33 273.45 450.72 271.02 455 269 C459.28 266.98 463.38 265.47 467.7 263.4 C472.02 261.33 478.7 257.73 480.9 256.6" fill="none" stroke="#FF0000" stroke-width="1.3" stroke-dasharray="4.2 3.0" stroke-linejoin="round"/>
<path d="M352.4 327.2 L354.9 330.3 L352.4 333.4 L349.9 330.3 Z" fill="none" stroke="#FF0000" stroke-width="1.25"/>
<path d="M365.2 302.8 L367.7 305.9 L365.2 309 L362.7 305.9 Z" fill="none" stroke="#FF0000" stroke-width="1.25"/>
<path d="M378.6 297.3 L381.1 300.4 L378.6 303.5 L376.1 300.4 Z" fill="none" stroke="#FF0000" stroke-width="1.25"/>
<path d="M391.3 291.9 L393.8 295 L391.3 298.1 L388.8 295 Z" fill="none" stroke="#FF0000" stroke-width="1.25"/>
<path d="M403.8 287.7 L406.3 290.8 L403.8 293.9 L401.3 290.8 Z" fill="none" stroke="#FF0000" stroke-width="1.25"/>
<path d="M416.9 282.9 L419.4 286 L416.9 289.1 L414.4 286 Z" fill="none" stroke="#FF0000" stroke-width="1.25"/>
<path d="M429 278.2 L431.5 281.3 L429 284.4 L426.5 281.3 Z" fill="none" stroke="#FF0000" stroke-width="1.25"/>
<path d="M442 272.4 L444.5 275.5 L442 278.6 L439.5 275.5 Z" fill="none" stroke="#FF0000" stroke-width="1.25"/>
<path d="M455 265.9 L457.5 269 L455 272.1 L452.5 269 Z" fill="none" stroke="#FF0000" stroke-width="1.25"/>
<path d="M467.7 260.3 L470.2 263.4 L467.7 266.5 L465.2 263.4 Z" fill="none" stroke="#FF0000" stroke-width="1.25"/>
<path d="M352.4 330.3 C352.5 328.25 352.8 321.55 353 318 C353.2 314.45 353.33 311.58 353.6 309 C353.87 306.42 354.15 304.02 354.6 302.5 C355.05 300.98 355.65 300.42 356.3 299.9 C356.95 299.38 357.5 299.52 358.5 299.4 C359.5 299.28 360 299.67 362.3 299.2 C364.6 298.73 368.98 297.7 372.3 296.6 C375.62 295.5 378.88 294.1 382.2 292.6 C385.52 291.1 388.9 289.48 392.2 287.6 C395.5 285.72 398.67 283.3 402 281.3 C405.33 279.3 408.82 277.72 412.2 275.6 C415.58 273.48 418.97 271.07 422.3 268.6 C425.63 266.13 428.93 263.48 432.2 260.8 C435.47 258.12 438.55 255.57 441.9 252.5 C445.25 249.43 450.57 244.08 452.3 242.4" fill="none" stroke="#77AC30" stroke-width="1.1" stroke-linejoin="round"/>
<rect x="350.5" y="328.4" width="3.8" height="3.8" fill="none" stroke="#77AC30" stroke-width="0.9"/>
<rect x="360.4" y="297.3" width="3.8" height="3.8" fill="none" stroke="#77AC30" stroke-width="0.9"/>
<rect x="370.4" y="294.7" width="3.8" height="3.8" fill="none" stroke="#77AC30" stroke-width="0.9"/>
<rect x="380.3" y="290.7" width="3.8" height="3.8" fill="none" stroke="#77AC30" stroke-width="0.9"/>
<rect x="390.3" y="285.7" width="3.8" height="3.8" fill="none" stroke="#77AC30" stroke-width="0.9"/>
<rect x="400.1" y="279.4" width="3.8" height="3.8" fill="none" stroke="#77AC30" stroke-width="0.9"/>
<rect x="410.3" y="273.7" width="3.8" height="3.8" fill="none" stroke="#77AC30" stroke-width="0.9"/>
<rect x="420.4" y="266.7" width="3.8" height="3.8" fill="none" stroke="#77AC30" stroke-width="0.9"/>
<rect x="430.3" y="258.9" width="3.8" height="3.8" fill="none" stroke="#77AC30" stroke-width="0.9"/>
<rect x="440" y="250.6" width="3.8" height="3.8" fill="none" stroke="#77AC30" stroke-width="0.9"/>
<path d="M352.4 330.3 C352.5 326.92 352.8 315.3 353 310 C353.2 304.7 353.22 301 353.6 298.5 C353.98 296 354.65 295.73 355.3 295 C355.95 294.27 356.53 294.37 357.5 294.1 C358.47 293.83 358.98 294.12 361.1 293.4 C363.22 292.68 367.18 291.1 370.2 289.8 C373.22 288.5 376.22 287.25 379.2 285.6 C382.18 283.95 385.1 282 388.1 279.9 C391.1 277.8 394.13 275.3 397.2 273 C400.27 270.7 403.48 268.5 406.5 266.1 C409.52 263.7 412.35 261.32 415.3 258.6 C418.25 255.88 421.18 252.78 424.2 249.8 C427.22 246.82 430.32 243.97 433.4 240.7 C436.48 237.43 441.15 231.95 442.7 230.2" fill="none" stroke="#3DB2EC" stroke-width="1.2" stroke-dasharray="4.2 3.0" stroke-linejoin="round"/>
<circle cx="352.4" cy="330.3" r="2.45" fill="none" stroke="#3DB2EC" stroke-width="1.2"/>
<circle cx="361.1" cy="293.4" r="2.45" fill="none" stroke="#3DB2EC" stroke-width="1.2"/>
<circle cx="370.2" cy="289.8" r="2.45" fill="none" stroke="#3DB2EC" stroke-width="1.2"/>
<circle cx="379.2" cy="285.6" r="2.45" fill="none" stroke="#3DB2EC" stroke-width="1.2"/>
<circle cx="388.1" cy="279.9" r="2.45" fill="none" stroke="#3DB2EC" stroke-width="1.2"/>
<circle cx="397.2" cy="273" r="2.45" fill="none" stroke="#3DB2EC" stroke-width="1.2"/>
<circle cx="406.5" cy="266.1" r="2.45" fill="none" stroke="#3DB2EC" stroke-width="1.2"/>
<circle cx="415.3" cy="258.6" r="2.45" fill="none" stroke="#3DB2EC" stroke-width="1.2"/>
<circle cx="424.2" cy="249.8" r="2.45" fill="none" stroke="#3DB2EC" stroke-width="1.2"/>
<circle cx="433.4" cy="240.7" r="2.45" fill="none" stroke="#3DB2EC" stroke-width="1.2"/>
<path d="M352.4 330.3 C352.52 327.25 352.88 317.88 353.1 312 C353.32 306.12 353.5 299.83 353.7 295 C353.9 290.17 354.1 285.75 354.3 283 C354.5 280.25 354.62 279.6 354.9 278.5 C355.18 277.4 355.68 276.8 356 276.4 C356.32 276 355.57 276.72 356.8 276.1 C358.03 275.48 361.4 273.98 363.4 272.7 C365.4 271.42 366.95 269.93 368.8 268.4 C370.65 266.87 372.67 265.25 374.5 263.5 C376.33 261.75 377.97 259.85 379.8 257.9 C381.63 255.95 383.67 253.87 385.5 251.8 C387.33 249.73 389 247.7 390.8 245.5 C392.6 243.3 394.43 240.97 396.3 238.6 C398.17 236.23 400.45 233.35 402 231.3 C403.55 229.25 405 227.13 405.6 226.3" fill="none" stroke="#7E2F8E" stroke-width="1.1" stroke-linejoin="round"/>
<path d="M350.5 328.4 L354.3 332.2 M350.5 332.2 L354.3 328.4" stroke="#7E2F8E" stroke-width="1.1" fill="none"/>
<path d="M354.9 274.2 L358.7 278 M354.9 278 L358.7 274.2" stroke="#7E2F8E" stroke-width="1.1" fill="none"/>
<path d="M361.5 270.8 L365.3 274.6 M361.5 274.6 L365.3 270.8" stroke="#7E2F8E" stroke-width="1.1" fill="none"/>
<path d="M366.9 266.5 L370.7 270.3 M366.9 270.3 L370.7 266.5" stroke="#7E2F8E" stroke-width="1.1" fill="none"/>
<path d="M372.6 261.6 L376.4 265.4 M372.6 265.4 L376.4 261.6" stroke="#7E2F8E" stroke-width="1.1" fill="none"/>
<path d="M377.9 256 L381.7 259.8 M377.9 259.8 L381.7 256" stroke="#7E2F8E" stroke-width="1.1" fill="none"/>
<path d="M383.6 249.9 L387.4 253.7 M383.6 253.7 L387.4 249.9" stroke="#7E2F8E" stroke-width="1.1" fill="none"/>
<path d="M388.9 243.6 L392.7 247.4 M388.9 247.4 L392.7 243.6" stroke="#7E2F8E" stroke-width="1.1" fill="none"/>
<path d="M394.4 236.7 L398.2 240.5 M394.4 240.5 L398.2 236.7" stroke="#7E2F8E" stroke-width="1.1" fill="none"/>
<path d="M400.1 229.4 L403.9 233.2 M400.1 233.2 L403.9 229.4" stroke="#7E2F8E" stroke-width="1.1" fill="none"/>
<rect x="352.4" y="197.5" width="166.1" height="132.8" fill="none" stroke="#909090" stroke-width="1.2"/>
<line x1="352.4" y1="330.3" x2="352.4" y2="328.7" stroke="#555555" stroke-width="0.8"/>
<line x1="352.4" y1="197.5" x2="352.4" y2="199.1" stroke="#555555" stroke-width="0.8"/>
<line x1="393.93" y1="330.3" x2="393.93" y2="328.7" stroke="#555555" stroke-width="0.8"/>
<line x1="393.93" y1="197.5" x2="393.93" y2="199.1" stroke="#555555" stroke-width="0.8"/>
<line x1="435.46" y1="330.3" x2="435.46" y2="328.7" stroke="#555555" stroke-width="0.8"/>
<line x1="435.46" y1="197.5" x2="435.46" y2="199.1" stroke="#555555" stroke-width="0.8"/>
<line x1="476.99" y1="330.3" x2="476.99" y2="328.7" stroke="#555555" stroke-width="0.8"/>
<line x1="476.99" y1="197.5" x2="476.99" y2="199.1" stroke="#555555" stroke-width="0.8"/>
<line x1="518.52" y1="330.3" x2="518.52" y2="328.7" stroke="#555555" stroke-width="0.8"/>
<line x1="518.52" y1="197.5" x2="518.52" y2="199.1" stroke="#555555" stroke-width="0.8"/>
<line x1="352.4" y1="330.3" x2="354" y2="330.3" stroke="#555555" stroke-width="0.8"/>
<line x1="352.4" y1="311.33" x2="354" y2="311.33" stroke="#555555" stroke-width="0.8"/>
<line x1="352.4" y1="292.36" x2="354" y2="292.36" stroke="#555555" stroke-width="0.8"/>
<line x1="352.4" y1="273.39" x2="354" y2="273.39" stroke="#555555" stroke-width="0.8"/>
<line x1="352.4" y1="254.42" x2="354" y2="254.42" stroke="#555555" stroke-width="0.8"/>
<line x1="352.4" y1="235.45" x2="354" y2="235.45" stroke="#555555" stroke-width="0.8"/>
<line x1="352.4" y1="216.48" x2="354" y2="216.48" stroke="#555555" stroke-width="0.8"/>
<line x1="352.4" y1="197.51" x2="354" y2="197.51" stroke="#555555" stroke-width="0.8"/>
<line x1="518.5" y1="330.3" x2="516.9" y2="330.3" stroke="#555555" stroke-width="0.8"/>
<line x1="518.5" y1="302.79" x2="516.9" y2="302.79" stroke="#555555" stroke-width="0.8"/>
<line x1="518.5" y1="275.27" x2="516.9" y2="275.27" stroke="#555555" stroke-width="0.8"/>
<line x1="518.5" y1="247.76" x2="516.9" y2="247.76" stroke="#555555" stroke-width="0.8"/>
<line x1="518.5" y1="220.25" x2="516.9" y2="220.25" stroke="#555555" stroke-width="0.8"/>
<text x="352.4" y="343.6" font-size="9.3" text-anchor="middle" fill="#262626" stroke="#262626">0</text>
<text x="393.93" y="343.6" font-size="9.3" text-anchor="middle" fill="#262626" stroke="#262626">100</text>
<text x="435.46" y="343.6" font-size="9.3" text-anchor="middle" fill="#262626" stroke="#262626">200</text>
<text x="476.99" y="343.6" font-size="9.3" text-anchor="middle" fill="#262626" stroke="#262626">300</text>
<text x="518.52" y="343.6" font-size="9.3" text-anchor="middle" fill="#262626" stroke="#262626">400</text>
<text x="348.6" y="333.6" font-size="9.3" text-anchor="end" fill="#262626" stroke="#262626">0</text>
<text x="348.6" y="314.63" font-size="9.3" text-anchor="end" fill="#262626" stroke="#262626">500</text>
<text x="348.6" y="295.66" font-size="9.3" text-anchor="end" fill="#262626" stroke="#262626">1000</text>
<text x="348.6" y="276.69" font-size="9.3" text-anchor="end" fill="#262626" stroke="#262626">1500</text>
<text x="348.6" y="257.72" font-size="9.3" text-anchor="end" fill="#262626" stroke="#262626">2000</text>
<text x="348.6" y="238.75" font-size="9.3" text-anchor="end" fill="#262626" stroke="#262626">2500</text>
<text x="348.6" y="219.78" font-size="9.3" text-anchor="end" fill="#262626" stroke="#262626">3000</text>
<text x="348.6" y="200.81" font-size="9.3" text-anchor="end" fill="#262626" stroke="#262626">3500</text>
<text x="522.4" y="334.6" font-size="9.3" text-anchor="start" fill="#262626" stroke="#262626">0</text>
<text x="522.4" y="307.09" font-size="9.3" text-anchor="start" fill="#262626" stroke="#262626">5</text>
<text x="522.4" y="279.57" font-size="9.3" text-anchor="start" fill="#262626" stroke="#262626">10</text>
<text x="522.4" y="252.06" font-size="9.3" text-anchor="start" fill="#262626" stroke="#262626">15</text>
<text x="522.4" y="224.55" font-size="9.3" text-anchor="start" fill="#262626" stroke="#262626">20</text>
<text x="0" y="0" transform="translate(324.9 263.9) rotate(-90)" font-size="10.4" text-anchor="middle" fill="#262626" stroke="#262626">Stress (psi)</text>
<text x="0" y="0" transform="translate(544.4 263.9) rotate(-90)" font-size="10.4" text-anchor="middle" fill="#262626" stroke="#262626">Stress (MPa)</text>
<text x="435.5" y="355.4" font-size="10.4" text-anchor="middle" fill="#262626" stroke="#262626">Strain (%)</text>
<rect x="158.1" y="99.1" width="39.6" height="33.1" fill="#fff" stroke="#b2b2b2" stroke-width="1.25"/>
<line x1="160.3" y1="105.8" x2="184" y2="105.8" stroke="#77AC30" stroke-width="1.3" stroke-dasharray="3.8 3.0"/>
<circle cx="172.4" cy="105.8" r="2.45" fill="none" stroke="#77AC30" stroke-width="1.2"/>
<text x="186" y="108.79" font-size="8.8" text-anchor="start" fill="#262626" stroke="#262626">S1</text>
<line x1="160.3" y1="116" x2="184" y2="116" stroke="#7E2F8E" stroke-width="1.2"/>
<path d="M170.5 114.1 L174.3 117.9 M170.5 117.9 L174.3 114.1" stroke="#7E2F8E" stroke-width="1.1" fill="none"/>
<text x="186" y="118.99" font-size="8.8" text-anchor="start" fill="#262626" stroke="#262626">S2</text>
<line x1="160.3" y1="126" x2="184" y2="126" stroke="#000000" stroke-width="1.3" stroke-dasharray="3.8 3.0"/>
<circle cx="172.4" cy="126" r="2.35" fill="#000000"/>
<text x="186" y="128.99" font-size="8.8" text-anchor="start" fill="#262626" stroke="#262626">S7</text>
<rect x="158.1" y="290" width="39.6" height="33.1" fill="#fff" stroke="#b2b2b2" stroke-width="1.25"/>
<line x1="160.3" y1="296.7" x2="184" y2="296.7" stroke="#77AC30" stroke-width="1.3" stroke-dasharray="3.8 3.0"/>
<circle cx="172.4" cy="296.7" r="2.45" fill="none" stroke="#77AC30" stroke-width="1.2"/>
<text x="186" y="299.69" font-size="8.8" text-anchor="start" fill="#262626" stroke="#262626">S1</text>
<line x1="160.3" y1="306.9" x2="184" y2="306.9" stroke="#7E2F8E" stroke-width="1.2"/>
<path d="M170.5 305 L174.3 308.8 M170.5 308.8 L174.3 305" stroke="#7E2F8E" stroke-width="1.1" fill="none"/>
<text x="186" y="309.89" font-size="8.8" text-anchor="start" fill="#262626" stroke="#262626">S2</text>
<line x1="160.3" y1="316.9" x2="184" y2="316.9" stroke="#000000" stroke-width="1.3" stroke-dasharray="3.8 3.0"/>
<circle cx="172.4" cy="316.9" r="2.35" fill="#000000"/>
<text x="186" y="319.89" font-size="8.8" text-anchor="start" fill="#262626" stroke="#262626">S7</text>
<text x="493" y="134" font-size="9.6" text-anchor="middle" fill="#111" stroke="#111">(a)</text>
<rect x="471.5" y="78.3" width="40.5" height="54.3" fill="#fff" stroke="#b2b2b2" stroke-width="1.25"/>
<line x1="473.9" y1="85" x2="497.9" y2="85" stroke="#3DB2EC" stroke-width="1.4" stroke-dasharray="3.8 3.0"/>
<circle cx="486.2" cy="85" r="2.45" fill="none" stroke="#3DB2EC" stroke-width="1.2"/>
<text x="499.6" y="87.99" font-size="8.8" text-anchor="start" fill="#262626" stroke="#262626">S3</text>
<line x1="473.9" y1="95.2" x2="497.9" y2="95.2" stroke="#88b955" stroke-width="2.0"/>
<rect x="484.3" y="93.3" width="3.8" height="3.8" fill="none" stroke="#88b955" stroke-width="0.9"/>
<text x="499.6" y="98.19" font-size="8.8" text-anchor="start" fill="#262626" stroke="#262626">S4</text>
<line x1="473.9" y1="105.35" x2="497.9" y2="105.35" stroke="#FF0000" stroke-width="1.5" stroke-dasharray="3.8 3.0"/>
<path d="M486.2 102.25 L488.7 105.35 L486.2 108.45 L483.7 105.35 Z" fill="none" stroke="#FF0000" stroke-width="1.25"/>
<text x="499.6" y="108.34" font-size="8.8" text-anchor="start" fill="#262626" stroke="#262626">S5</text>
<line x1="473.9" y1="115.55" x2="497.9" y2="115.55" stroke="#0000FF" stroke-width="1.4"/>
<path d="M486.2 112.55 L485.45 114.25 L483.6 114.05 L484.7 115.55 L483.6 117.05 L485.45 116.85 L486.2 118.55 L486.95 116.85 L488.8 117.05 L487.7 115.55 L488.8 114.05 L486.95 114.25 Z" fill="#0000FF" stroke="#0000FF" stroke-width="0.4"/>
<text x="499.6" y="118.54" font-size="8.8" text-anchor="start" fill="#262626" stroke="#262626">S6</text>
<line x1="473.9" y1="125.75" x2="497.9" y2="125.75" stroke="#9866a6" stroke-width="2.0"/>
<path d="M484.3 123.85 L488.1 127.65 M484.3 127.65 L488.1 123.85" stroke="#9866a6" stroke-width="1.1" fill="none"/>
<text x="499.6" y="128.74" font-size="8.8" text-anchor="start" fill="#262626" stroke="#262626">S8</text>
<text x="493" y="324.9" font-size="9.6" text-anchor="middle" fill="#111" stroke="#111">(a)</text>
<rect x="471.5" y="269.2" width="40.5" height="54.3" fill="#fff" stroke="#b2b2b2" stroke-width="1.25"/>
<line x1="473.9" y1="275.9" x2="497.9" y2="275.9" stroke="#3DB2EC" stroke-width="1.4" stroke-dasharray="3.8 3.0"/>
<circle cx="486.2" cy="275.9" r="2.45" fill="none" stroke="#3DB2EC" stroke-width="1.2"/>
<text x="499.6" y="278.89" font-size="8.8" text-anchor="start" fill="#262626" stroke="#262626">S3</text>
<line x1="473.9" y1="286.1" x2="497.9" y2="286.1" stroke="#88b955" stroke-width="2.0"/>
<rect x="484.3" y="284.2" width="3.8" height="3.8" fill="none" stroke="#88b955" stroke-width="0.9"/>
<text x="499.6" y="289.09" font-size="8.8" text-anchor="start" fill="#262626" stroke="#262626">S4</text>
<line x1="473.9" y1="296.25" x2="497.9" y2="296.25" stroke="#FF0000" stroke-width="1.5" stroke-dasharray="3.8 3.0"/>
<path d="M486.2 293.15 L488.7 296.25 L486.2 299.35 L483.7 296.25 Z" fill="none" stroke="#FF0000" stroke-width="1.25"/>
<text x="499.6" y="299.24" font-size="8.8" text-anchor="start" fill="#262626" stroke="#262626">S5</text>
<line x1="473.9" y1="306.45" x2="497.9" y2="306.45" stroke="#0000FF" stroke-width="1.4"/>
<path d="M486.2 303.45 L485.45 305.15 L483.6 304.95 L484.7 306.45 L483.6 307.95 L485.45 307.75 L486.2 309.45 L486.95 307.75 L488.8 307.95 L487.7 306.45 L488.8 304.95 L486.95 305.15 Z" fill="#0000FF" stroke="#0000FF" stroke-width="0.4"/>
<text x="499.6" y="309.44" font-size="8.8" text-anchor="start" fill="#262626" stroke="#262626">S6</text>
<line x1="473.9" y1="316.65" x2="497.9" y2="316.65" stroke="#9866a6" stroke-width="2.0"/>
<path d="M484.3 314.75 L488.1 318.55 M484.3 318.55 L488.1 314.75" stroke="#9866a6" stroke-width="1.1" fill="none"/>
<text x="499.6" y="319.64" font-size="8.8" text-anchor="start" fill="#262626" stroke="#262626">S8</text>
<text x="117" y="180.4" font-size="13.3" text-anchor="middle" letter-spacing="0.25" fill="#262626" stroke="#262626">(<tspan font-weight="bold">a</tspan>)</text>
<text x="431.2" y="180" font-size="13.3" text-anchor="middle" letter-spacing="0.25" fill="#262626" stroke="#262626">(<tspan font-weight="bold">b</tspan>)</text>
<text x="117" y="371.3" font-size="13.3" text-anchor="middle" letter-spacing="0.25" fill="#262626" stroke="#262626">(<tspan font-weight="bold">c</tspan>)</text>
<text x="431.2" y="370.9" font-size="13.3" text-anchor="middle" letter-spacing="0.25" fill="#262626" stroke="#262626">(<tspan font-weight="bold">d</tspan>)</text>
</svg></body></html>
